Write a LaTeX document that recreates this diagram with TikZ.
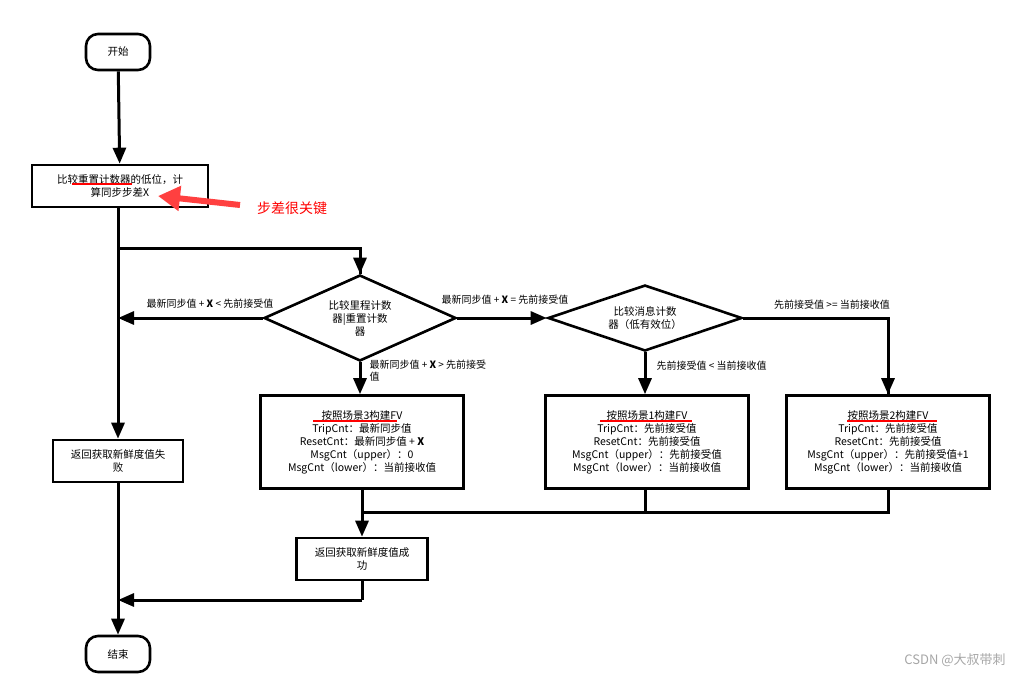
\documentclass[tikz,border=0pt]{standalone}
\usepackage{fontspec}
\setmainfont{Noto Sans CJK SC}
\usetikzlibrary{arrows.meta,shapes.geometric}
\begin{document}
\begin{tikzpicture}[x=1pt,y=-1pt,
  every node/.style={font=\fontsize{10.5}{13}\selectfont},
  box/.style={draw,line width=2.6pt,align=center,inner sep=2pt},
  term/.style={draw,line width=2.6pt,rounded corners=12pt,minimum width=64pt,minimum height=36pt},
  dia/.style={draw,line width=2.6pt,diamond,aspect=2.8,align=center,inner sep=0pt},
  conn/.style={line width=3pt},
  arr/.style={conn,-{Triangle[length=16pt,width=13pt]}},
  lbl/.style={font=\fontsize{10}{12}\selectfont},
  ul/.style={red,line width=1.8pt}]
\useasboundingbox (0,0) rectangle (1036,678);
\node[term] (start) at (118,52) {开始};
\node[box,minimum width=176pt,minimum height=42pt] (cmp) at (120,186) {比较重置计数器的低位，计\\算同步步差X};
\draw[ul] (72,184) -- (132,184);
\coordinate (rt) at (240,205);
\draw[red!75,line width=6pt,-{Triangle[length=22pt,width=24pt]}] (rt) -- (158,196);
\node[red,font=\fontsize{14}{16}\selectfont] (key) at (292,208) {步差很关键};
\node[box,minimum width=130pt,minimum height=42pt] (fail) at (118,461) {返回获取新鲜度值失\\败};
\node[term] (end) at (118,654) {结束};
\node[dia,minimum width=192pt,minimum height=86pt] (d1) at (360,318) {比较里程计数\\器|重置计数\\器};
\node[dia,minimum width=194pt,minimum height=66pt] (d2) at (645,318) {比较消息计数\\器（低有效位）};
\node[box,minimum width=203pt,minimum height=93pt] (fv3) at (362,442) {按照场景3构建FV\\TripCnt：最新同步值\\ResetCnt：最新同步值 + \textbf{X}\\MsgCnt（upper）：0\\MsgCnt（lower）：当前接收值};
\node[box,minimum width=203pt,minimum height=93pt] (fv1) at (647,442) {按照场景1构建FV\\TripCnt：先前接受值\\ResetCnt：先前接受值\\MsgCnt（upper）：先前接受值\\MsgCnt（lower）：当前接收值};
\node[box,minimum width=203pt,minimum height=93pt] (fv2) at (888,442) {按照场景2构建FV\\TripCnt：先前接受值\\ResetCnt：先前接受值\\MsgCnt（upper）：先前接受值+1\\MsgCnt（lower）：当前接收值};
\draw[ul] (313,421) -- (397,421);
\draw[ul] (600,421) -- (692,421);
\draw[ul] (847,421) -- (937,421);
\node[box,minimum width=131pt,minimum height=42pt] (ok) at (362,559) {返回获取新鲜度值成\\功};
\node[gray!70,font=\fontsize{13}{15}\selectfont] (wm) at (955,660) {CSDN @大叔带刺};
\coordinate (j1) at (118,248);
\coordinate (jl) at (118,318);
\coordinate (jb) at (118,600);
\coordinate (m) at (362,512);
\draw[arr] (start) -- (cmp);
\draw[arr] (cmp.south -| j1) -- (fail.north -| j1);
\draw[conn] (j1) -| (d1.north);
\draw[arr] (j1 -| d1.north) -- (d1.north);
\draw[arr] (d1.west) -- (jl);
\node[lbl] at (210,304) {最新同步值 + \textbf{X} < 先前接受值};
\draw[arr] (d1.east) -- (d2.west);
\node[lbl] at (505,300) {最新同步值 + \textbf{X} = 先前接受值};
\draw[conn] (d2.east) -| (fv2.north);
\draw[arr] (d2.east -| fv2.north) ++(0,40) -- (fv2.north);
\node[lbl] at (832,305) {先前接受值 >= 当前接收值};
\draw[arr] (d2.south) -- (d2.south |- fv1.north);
\node[lbl,anchor=west] at (653,366) {先前接受值 < 当前接收值};
\draw[arr] (d1.south) -- (d1.south |- fv3.north);
\node[lbl,anchor=north west,align=left] at (366,357) {最新同步值 + \textbf{X} > 先前接受\\值};
\draw[conn] (fv3.south) -- (m) -- (m -| fv2.south) -- (fv2.south);
\draw[conn] (fv1.south -| d2.south) -- (m -| d2.south);
\draw[arr] (m) -- (ok.north);
\draw[conn] (ok.south) -- (ok.south |- jb);
\draw[arr] (ok.south |- jb) -- (jb);
\draw[arr] (fail.south) -- (end.north);
\end{tikzpicture}
\end{document}
